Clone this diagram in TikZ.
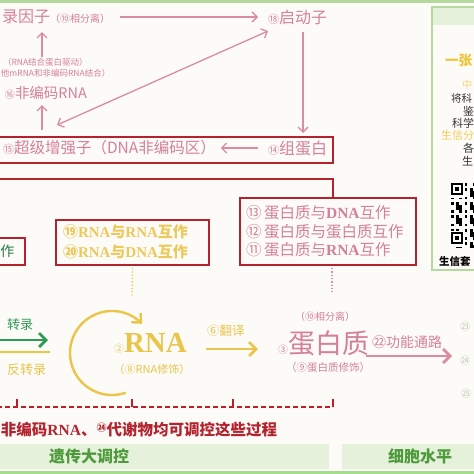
\documentclass[tikz,border=0pt]{standalone}
\usepackage{fontspec}
\setmainfont{Noto Sans CJK SC}
\newfontfamily\lserif{Liberation Serif}
\usetikzlibrary{arrows.meta,calc}
\definecolor{pinkt}{HTML}{D4809A}
\definecolor{pinka}{HTML}{DA8CA0}
\definecolor{dred}{HTML}{B3232E}
\definecolor{gold}{HTML}{EBC44A}
\definecolor{goldt}{HTML}{ECC95A}
\definecolor{grn}{HTML}{2E9A55}
\definecolor{bandf}{HTML}{E5F1DA}
\definecolor{bandt}{HTML}{4E9A3C}
\definecolor{lgreen}{HTML}{B5D99C}
\definecolor{bgc}{HTML}{FDFBF8}
\definecolor{numg}{HTML}{B8CDB0}
\definecolor{darkt}{HTML}{333333}
\definecolor{yell}{HTML}{EFC233}
\newcommand\fsz[1]{\fontsize{#1}{#1}\selectfont}
\tikzset{
  every node/.style={inner sep=0pt, outer sep=0pt},
  ptxt/.style={text=pinkt},
  parrow/.style={draw=pinka, line width=1.3pt, -{Straight Barb[length=5pt,width=10pt]}},
  pdarrow/.style={draw=pinka, line width=1.3pt, {Straight Barb[length=5pt,width=10pt]}-{Straight Barb[length=5pt,width=10pt]}},
  redframe/.style={draw=dred, line width=1.6pt},
  ibox/.style={draw=dred, line width=1.6pt, fill=none},
  thickarrow/.style={line width=2.8pt, -{Straight Barb[length=7pt,width=14pt]}},
  smalln/.style={text=numg, font=\fsz{10}},
}
\begin{document}
\begin{tikzpicture}[x=1pt,y=-1pt]
\useasboundingbox (0,0) rectangle (474,474);
\clip (0,0) rectangle (474,474);
\fill[bgc] (0,0) rectangle (474,474);
\fill[lgreen] (0,0) rectangle (474,2.5);

% ---------- top regulation area ----------
\node[ptxt, anchor=west] (tf) at (2,17) {\fsz{16}录因子\fsz{10}（⑩相分离）};
\node[ptxt, anchor=west] (prom) at (268,17) {\fsz{11}⑱\fsz{16}启动子};
\node[ptxt, anchor=west] (hist) at (268,148) {\fsz{11}⑭\fsz{16}组蛋白};
\node[ptxt, anchor=west] (se) at (3,148) {\fsz{11}⑮\fsz{15.5}超级增强子（DNA非编码区）};
\node[ptxt, anchor=west] (ncrna) at (5,93) {\fsz{10}⑯\fsz{14.5}非编码RNA};
\node[ptxt, anchor=west, font=\fsz{8.5}] (note1) at (3,62) {（RNA结合蛋白驱动）};
\node[ptxt, anchor=west, font=\fsz{8.5}] (note2) at (1,73) {他mRNA和非编码RNA结合）};

\draw[parrow] ([xshift=10pt]tf.east) -- ([xshift=-10pt]prom.west);
\draw[parrow] ($(prom.west)+(35,15)$) -- ($(hist.west)+(35,-15)$);
\draw[parrow] ([xshift=-10pt]hist.west) -- ([xshift=5pt]se.east);
\draw[pdarrow] ($(se.west)+(54,-23)$) -- ($(prom.west)+(0,14)$);
\draw[parrow] ($(se.west)+(39,-18)$) -- ($(ncrna.west)+(37,12)$);
\draw[parrow] ($(note1.west)+(39,-5)$) -- ($(tf.west)+(40,15)$);

% chromatin frame and bracket
\draw[redframe] (-3,137) rectangle (333,163);

% ---------- interaction boxes ----------
\node[ibox, minimum width=30pt, minimum height=27pt] (lbox) at (10,251.5) {};
\node[anchor=west, text=grn!80!black, font=\fsz{14}] (lt) at (0.5,251.5) {作};

\node[ibox, minimum width=153pt, minimum height=45pt] (rbox) at (132.5,242.5) {};
\node[anchor=west, text=goldt, font=\fsz{15}\bfseries] (r1) at (63,232) {⑲{\lserif RNA}与{\lserif RNA}互作};
\node[anchor=west, text=goldt, font=\fsz{15}\bfseries] (r2) at (63,252) {⑳{\lserif RNA}与{\lserif DNA}互作};

\node[ibox, minimum width=176pt, minimum height=67pt] (pbox) at (328,231.5) {};
\node[anchor=west, ptxt, font=\fsz{15.5}] (p1) at (246,213) {⑬\,蛋白质与{\lserif\bfseries DNA}互作};
\node[anchor=west, ptxt, font=\fsz{15.5}] (p2) at (246,231.5) {⑫\,蛋白质与蛋白质互作};
\node[anchor=west, ptxt, font=\fsz{15.5}] (p3) at (246,250) {⑪\,蛋白质与{\lserif\bfseries RNA}互作};

\draw[redframe] (-3,179) -| ($(pbox.north)+(5,0)$);

% ---------- central dogma row ----------
\node[anchor=west, text=grn, font=\fsz{13}] (tx) at (7,325) {转录};
\node[anchor=west, text=gold, font=\fsz{13}] (rtx) at (7,370) {反转录};
\coordinate (gstart) at (-6,340);
\coordinate (ystart) at (50,352);
\coordinate (yend) at (-12,352);

\node[anchor=west, text=gold] (rna) at (114,343) {\fsz{10}②\fsz{29}{\lserif\bfseries RNA}};
\node[text=gold, font=\fsz{11}] (rnamod) at (152,369) {（⑧RNA修饰）};
\node[anchor=west, text=gold, font=\fsz{12.5}] (tl) at (207,331) {⑥翻译};

\node[anchor=west, ptxt] (prot) at (278,343) {\fsz{10}③\fsz{27}蛋白质};
\node[ptxt, font=\fsz{10}] (phase) at (325,317) {（⑩相分离）};
\node[ptxt, font=\fsz{10.5}] (pmod) at (328,368) {（⑨蛋白质修饰）};
\node[anchor=west, ptxt, font=\fsz{14}] (func) at (372,342) {㉒功能通路};
\coordinate (fend) at (452,356);

\node[smalln] (n23) at (465,327) {㉓};
\node[smalln] (n24) at (465,361) {㉔};
\node[smalln] (n25) at (466,394) {㉕};

\draw[thickarrow, draw=grn] (gstart) -- ($(rna.west)+(-66,-3)$);
\draw[thickarrow, draw=gold] (ystart) -- (yend);
\draw[thickarrow, draw=gold] ($(rna.east)+(19,6)$) -- ($(prot.west)+(-20,6)$);
\draw[thickarrow, draw=pinka] ($(prot.east)+(-3,13)$) -- (fend);

% circular RNA arrow
\draw[draw=gold, line width=2.4pt, -{Straight Barb[length=7pt,width=13pt]}]
  plot[domain=71:316, samples=80, smooth] ({112+42*cos(\x)},{353+42*sin(\x)});

% dotted links
\coordinate (ydot) at (132,296);
\coordinate (pdot) at (332,293);
\draw[draw=gold, line width=1.3pt, dotted] ($(rbox.south)+(0,3)$) -- (ydot);
\draw[draw=pinka, line width=1.3pt, dotted] ($(pbox.south)+(4,3)$) -- (pdot);

% dashed bracket
\draw[draw=dred!85!red, line width=1.3pt, dash pattern=on 5pt off 3pt] (-3,407) -- (333,407);
\foreach \tx in {17,132,233,333}
  \draw[draw=dred!85!red, line width=1.3pt] (\tx,407) -- (\tx,399);
\node[anchor=west, text=dred, font=\fsz{15.5}\bfseries] (bottomtxt) at (1,430)
  {非编码{\lserif RNA}、\raisebox{4pt}{\fsz{10}㉔}代谢物均可调控这些过程};

% bottom bands
\fill[bandf] (-3,444) rectangle (329,469);
\fill[bandf] (342,444) rectangle (477,469);
\node[text=bandt, font=\fsz{16}\bfseries] (band1) at (89,456.5) {遗传大调控};
\node[text=bandt, font=\fsz{16}\bfseries] (band2) at (420,456.5) {细胞水平};
\fill[lgreen!90!green] (0,471) rectangle (474,474);

% right panel
\draw[draw=lgreen, line width=1.5pt] (432,7) rectangle (480,270);
\fill[bandf] (433,8) rectangle (480,25);
\node[anchor=west, text=yell, font=\fsz{13.5}\bfseries] (pt1) at (445,60) {一张};
\node[anchor=west, text=yell!70, font=\fsz{10}] (pt2) at (462,85) {中};
\node[anchor=west, text=darkt, font=\fsz{10.5}] (pt3) at (451,98) {将科};
\node[anchor=west, text=darkt, font=\fsz{11}] (pt4) at (463,111) {鉴};
\node[anchor=west, text=darkt, font=\fsz{11}] (pt5) at (452,123) {科学};
\node[anchor=west, text=yell!80, font=\fsz{11}] (pt6) at (441,135) {生信分};
\node[anchor=west, text=darkt, font=\fsz{11}] (pt7) at (463,148) {各};
\node[anchor=west, text=darkt, font=\fsz{11}] (pt8) at (462,161) {生};
% QR code
\foreach \i in {0,...,9}
  \foreach \j in {0,...,23}{
    \pgfmathtruncatemacro\v{mod(\i*7+\j*13+\i*\j*3+\j*\j,5)}
    \ifnum\v<2 \fill[black] (451+\i*2.7,183+\j*2.7) rectangle ++(2.7,2.7);\fi
  }
\foreach \yy in {183,232}{
  \fill[white] (450,\yy-1) rectangle (465,\yy+15);
  \fill[black] (451,\yy) rectangle (463,\yy+12);
  \fill[white] (452.8,\yy+1.8) rectangle (461.2,\yy+10.2);
  \fill[black] (454.6,\yy+3.6) rectangle (459.4,\yy+8.4);
}
\node[anchor=west, text=black, font=\fsz{10.5}\bfseries] (pt9) at (439,262) {生信套};
\end{tikzpicture}
\end{document}
